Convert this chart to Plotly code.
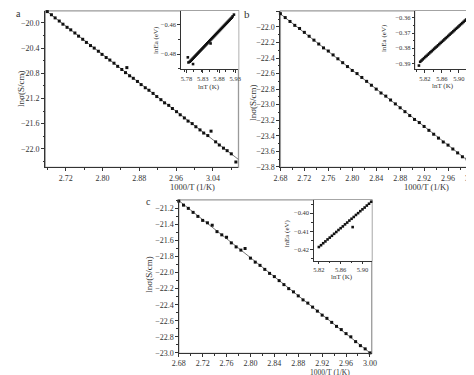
import numpy as np
import plotly.graph_objects as go

W, H = 474, 375

# ---------------- data ----------------
# panel a : ln(sigma) vs 1000/T
a_x = [2.680, 2.689, 2.697, 2.706, 2.714, 2.723, 2.731, 2.740, 2.748, 2.757,
       2.765, 2.774, 2.782, 2.791, 2.799, 2.808, 2.816, 2.825, 2.833, 2.842,
       2.853, 2.850, 2.859, 2.867, 2.876, 2.884, 2.893, 2.901, 2.910, 2.918,
       2.927, 2.935, 2.944, 2.952, 2.961, 2.969, 2.978, 2.986, 2.995, 3.003,
       3.012, 3.020, 3.036, 3.029, 3.046, 3.054, 3.063, 3.071, 3.080, 3.090]
a_y = [-19.82, -19.87, -19.92, -19.97, -20.02, -20.07, -20.11, -20.16, -20.21, -20.26,
       -20.31, -20.36, -20.40, -20.45, -20.50, -20.55, -20.59, -20.64, -20.69, -20.74,
       -20.71, -20.79, -20.84, -20.88, -20.93, -20.98, -21.03, -21.07, -21.12, -21.17,
       -21.22, -21.27, -21.31, -21.36, -21.41, -21.46, -21.51, -21.56, -21.60, -21.65,
       -21.70, -21.75, -21.72, -21.79, -21.89, -21.94, -21.99, -22.03, -22.08, -22.21]

# inset a : lnEa vs lnT
ia_x = [5.784, 5.786, 5.790, 5.793, 5.796, 5.799, 5.800, 5.802, 5.805, 5.808,
        5.811, 5.814, 5.817, 5.820, 5.823, 5.826, 5.829, 5.832, 5.835, 5.838,
        5.841, 5.844, 5.847, 5.850, 5.853, 5.854, 5.856, 5.859, 5.862, 5.865,
        5.868, 5.871, 5.874, 5.877, 5.880, 5.883, 5.886, 5.889, 5.892, 5.895,
        5.898, 5.901, 5.904, 5.907, 5.910, 5.913, 5.916, 5.919, 5.922, 5.926]
ia_y = [-0.4822, -0.4857, -0.4852, -0.4845, -0.4838, -0.4831, -0.4868, -0.4824, -0.4817, -0.4810,
        -0.4803, -0.4796, -0.4789, -0.4782, -0.4775, -0.4768, -0.4761, -0.4754, -0.4747, -0.4740,
        -0.4733, -0.4726, -0.4719, -0.4712, -0.4705, -0.4727, -0.4698, -0.4691, -0.4684, -0.4677,
        -0.4670, -0.4663, -0.4656, -0.4649, -0.4642, -0.4635, -0.4628, -0.4621, -0.4614, -0.4607,
        -0.4600, -0.4593, -0.4586, -0.4579, -0.4572, -0.4565, -0.4558, -0.4551, -0.4542, -0.4530]

# panel b
b_x = [2.680, 2.688, 2.696, 2.704, 2.712, 2.720, 2.728, 2.736, 2.744, 2.752,
       2.760, 2.768, 2.776, 2.784, 2.792, 2.800, 2.808, 2.816, 2.824, 2.832,
       2.840, 2.848, 2.856, 2.864, 2.872, 2.880, 2.888, 2.896, 2.904, 2.912,
       2.920, 2.928, 2.936, 2.944, 2.952, 2.960, 2.968, 2.976, 2.984, 2.992, 3.000]
b_y = [-21.83, -21.88, -21.93, -21.98, -22.02, -22.07, -22.12, -22.17, -22.22, -22.27,
       -22.31, -22.36, -22.41, -22.46, -22.51, -22.56, -22.60, -22.65, -22.70, -22.75,
       -22.80, -22.85, -22.89, -22.94, -22.99, -23.04, -23.09, -23.14, -23.19, -23.23,
       -23.28, -23.33, -23.38, -23.43, -23.48, -23.52, -23.57, -23.62, -23.67, -23.70, -23.73]

# inset b
ib_x = [5.806, 5.809, 5.812, 5.815, 5.818, 5.821, 5.824, 5.827, 5.830, 5.833,
        5.836, 5.839, 5.842, 5.845, 5.848, 5.851, 5.854, 5.857, 5.860, 5.863,
        5.866, 5.869, 5.872, 5.875, 5.878, 5.881, 5.884, 5.887, 5.890, 5.893,
        5.896, 5.899, 5.902, 5.905, 5.908, 5.911, 5.914, 5.917, 5.920, 5.923]
ib_y = [-0.3915, -0.3890, -0.3882, -0.3874, -0.3866, -0.3858, -0.3851, -0.3843, -0.3835, -0.3827,
        -0.3820, -0.3812, -0.3804, -0.3796, -0.3789, -0.3781, -0.3773, -0.3765, -0.3758, -0.3750,
        -0.3742, -0.3734, -0.3727, -0.3719, -0.3711, -0.3703, -0.3696, -0.3688, -0.3680, -0.3672,
        -0.3665, -0.3657, -0.3649, -0.3641, -0.3634, -0.3626, -0.3618, -0.3610, -0.3603, -0.3595]

# panel c
c_x = [2.680, 2.688, 2.696, 2.704, 2.712, 2.720, 2.728, 2.736, 2.744, 2.752,
       2.760, 2.768, 2.776, 2.784, 2.791, 2.800, 2.808, 2.816, 2.824, 2.832,
       2.840, 2.848, 2.856, 2.864, 2.872, 2.880, 2.888, 2.896, 2.904, 2.912,
       2.920, 2.928, 2.936, 2.944, 2.952, 2.960, 2.968, 2.976, 2.984, 2.992, 3.000]
c_y = [-21.11, -21.16, -21.20, -21.25, -21.30, -21.35, -21.38, -21.41, -21.49, -21.53,
       -21.56, -21.63, -21.68, -21.72, -21.70, -21.82, -21.87, -21.91, -21.96, -22.01,
       -22.05, -22.10, -22.15, -22.20, -22.24, -22.29, -22.34, -22.38, -22.43, -22.48,
       -22.53, -22.57, -22.62, -22.67, -22.71, -22.76, -22.80, -22.86, -22.91, -22.95, -23.00]

# inset c
ic_x = [5.820, 5.824, 5.828, 5.832, 5.836, 5.840, 5.844, 5.848, 5.852, 5.856,
        5.860, 5.864, 5.868, 5.872, 5.876, 5.880, 5.882, 5.884, 5.888, 5.892,
        5.896, 5.900, 5.904, 5.908, 5.912, 5.916]
ic_y = [-0.4187, -0.4177, -0.4166, -0.4156, -0.4145, -0.4135, -0.4125, -0.4114, -0.4104, -0.4093,
        -0.4083, -0.4073, -0.4062, -0.4052, -0.4041, -0.4031, -0.4077, -0.4021, -0.4010, -0.4000,
        -0.3989, -0.3979, -0.3969, -0.3958, -0.3948, -0.3937]

# tick values
a_xticks = [2.72, 2.80, 2.88, 2.96, 3.04]
a_yticks = [-22.0, -21.6, -21.2, -20.8, -20.4, -20.0]
bc_xticks = [2.68, 2.72, 2.76, 2.80, 2.84, 2.88, 2.92, 2.96, 3.00]
b_yticks = [-23.8, -23.6, -23.4, -23.2, -23.0, -22.8, -22.6, -22.4, -22.2, -22.0, -21.8]
c_yticks = [-23.0, -22.8, -22.6, -22.4, -22.2, -22.0, -21.8, -21.6, -21.4, -21.2]
ia_xticks = [5.78, 5.83, 5.88, 5.93]
ia_yticks = [-0.48, -0.46]
ib_xticks = [5.82, 5.86, 5.90]
ib_yticks = [-0.39, -0.38, -0.37, -0.36]
ic_xticks = [5.82, 5.86, 5.90]
ic_yticks = [-0.42, -0.41, -0.40]

FONT = "Liberation Serif"
TXT = "#333333"


def px_x(p):
    return p / W


def px_y(p):
    return 1 - p / H


fig = go.Figure()

panels = [
    (a_x, a_y, "x", "y", True),
    (ia_x, ia_y, "x2", "y2", False),
    (b_x, b_y, "x3", "y3", True),
    (ib_x, ib_y, "x4", "y4", False),
    (c_x, c_y, "x5", "y5", True),
    (ic_x, ic_y, "x6", "y6", False),
]

for xs, ys, xa, ya, fit in panels:
    if fit:
        k, b0 = np.polyfit(xs, ys, 1)
        xl = np.array([min(xs) - 0.01, max(xs) + 0.01])
        fig.add_trace(go.Scatter(x=xl, y=k * xl + b0, mode="lines",
                                 line=dict(color="#777777", width=1),
                                 xaxis=xa, yaxis=ya, showlegend=False, hoverinfo="skip"))
    fig.add_trace(go.Scatter(x=xs, y=ys, mode="markers",
                             marker=dict(symbol="square", size=3 if fit else 2.6, color="#111111"),
                             xaxis=xa, yaxis=ya, showlegend=False, cliponaxis=False))


def axis(domain, rng, ticks, anchor, fmt, minor_dtick, fs, tl):
    return dict(domain=domain, range=rng, tickvals=ticks, anchor=anchor,
                tickformat=fmt, showline=True, linecolor="#333333", linewidth=1,
                ticks="outside", ticklen=tl, tickcolor="#333333", tickwidth=1,
                tickfont=dict(family=FONT, size=fs, color=TXT),
                showgrid=False, zeroline=False, mirror=False,
                minor=dict(ticks="outside", ticklen=max(1.5, tl - 1.5), dtick=minor_dtick,
                           tickcolor="#333333", showgrid=False))


boxes = {
    "a": (31, 229.3, 3, 161),
    "ia": (170, 229.3, 3, 62),
    "b": (272.3, 470.7, 3, 161),
    "ib": (410.7, 470.7, 3, 62),
    "c": (168, 366, 194, 349),
    "ic": (306.7, 366, 194, 255.7),
}


def dom(key):
    l, r, t, b = boxes[key]
    return [px_x(l), px_x(r)], [px_y(b), px_y(t)]


layout = dict(width=W, height=H, margin=dict(l=0, r=0, t=0, b=0),
              paper_bgcolor="white", plot_bgcolor="white", showlegend=False)

specs = [
    ("a", "", [2.6755, 3.0957], [-22.294, -19.81], a_xticks, a_yticks, ".2f", ".1f", 0.04, 0.2, 8, 3),
    ("ia", "2", [5.762, 5.94], [-0.4904, -0.4505], ia_xticks, ia_yticks, ".2f", ".2f", 0.025, 0.01, 6.5, 2.5),
    ("b", "3", [2.68, 3.003], [-23.805, -21.795], bc_xticks, b_yticks, ".2f", ".1f", 0.02, 0.1, 8, 3),
    ("ib", "4", [5.7975, 5.935], [-0.394, -0.3554], ib_xticks, ib_yticks, ".2f", ".2f", 0.02, 0.005, 6.5, 2.5),
    ("c", "5", [2.68, 3.003], [-23.005, -21.095], bc_xticks, c_yticks, ".2f", ".1f", 0.02, 0.1, 8, 2.5),
    ("ic", "6", [5.811, 5.917], [-0.4264, -0.3927], ic_xticks, ic_yticks, ".2f", ".2f", 0.02, 0.005, 6.5, 2.5),
]

shapes = []
for key, sfx, xr, yr, xt, yt, xf, yf, mx, my, fs, tl in specs:
    xd, yd = dom(key)
    layout["xaxis" + sfx] = axis(xd, xr, xt, "y" + sfx, xf, mx, fs, tl)
    layout["yaxis" + sfx] = axis(yd, yr, yt, "x" + sfx, yf, my, fs, tl)
    shapes.append(dict(type="rect", xref="paper", yref="paper",
                       x0=xd[0], x1=xd[1], y0=yd[0], y1=yd[1],
                       line=dict(color="#9a9a9a", width=1.3), layer="below",
                       fillcolor="white"))

layout["shapes"] = shapes

ann = []


def text(x, y, s, size, angle=0, xanchor="center"):
    ann.append(dict(x=px_x(x), y=px_y(y), xref="paper", yref="paper", text=s,
                    showarrow=False, textangle=angle, xanchor=xanchor, yanchor="middle",
                    font=dict(family=FONT, size=size, color=TXT)))


text(4, 6, "a", 10)
text(238, 6, "b", 11)
text(137, 196, "c", 10)
ylab = "ln\u03c3(S/cm)"
xlab = "1000/T (1/K)"
text(6, 82, ylab, 9, -90)
text(244, 96, ylab, 9, -90)
text(138, 270, ylab, 9, -90)
text(182, 181, xlab, 8.5)
text(422, 181, xlab, 8.5)
text(323, 368.5, xlab, 7.5)
ilab = "lnEa (eV)"
tlab = "lnT (K)"
text(144, 32, ilab, 7, -90)
text(378, 30, ilab, 7, -90)
text(279, 228, ilab, 7, -90)
text(199, 80, tlab, 7)
text(439, 79, tlab, 7)
text(335, 272, tlab, 7)

layout["annotations"] = ann
fig.update_layout(**layout)
fig.write_html("out.html")
